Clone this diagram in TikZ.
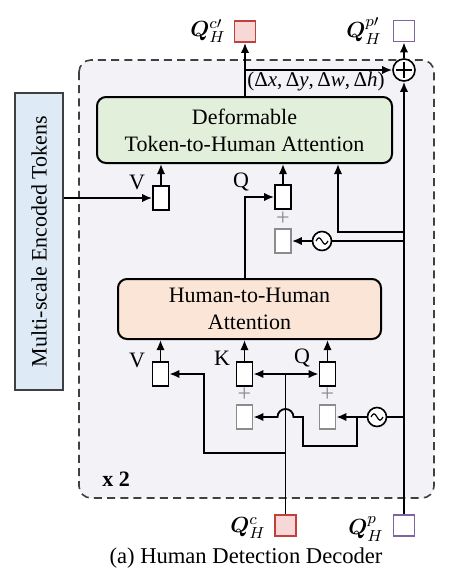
\documentclass[tikz,border=0pt]{standalone}
\usepackage{fontspec}
\setmainfont{Liberation Serif}
\usepackage{bm}
\usetikzlibrary{arrows.meta,calc}
\definecolor{outerfill}{RGB}{242,242,247}
\definecolor{outerline}{RGB}{64,64,64}
\definecolor{greenfill}{RGB}{226,239,218}
\definecolor{peachfill}{RGB}{251,229,214}
\definecolor{bluefill}{RGB}{222,235,247}
\definecolor{redfill}{RGB}{248,215,215}
\definecolor{redline}{RGB}{192,64,60}
\definecolor{purpleline}{RGB}{128,100,162}
\definecolor{grayline}{RGB}{140,140,140}
\tikzset{
  tok/.style={draw, fill=white, minimum width=8pt, minimum height=12pt, inner sep=0pt, line width=0.9pt},
  pebox/.style={tok, draw=grayline},
  sinc/.style={circle, draw, fill=white, minimum size=9.5pt, inner sep=0pt, line width=0.8pt},
  attn/.style={draw, rounded corners=4.5pt, line width=1pt, align=center, inner sep=0pt},
  qbox/.style={draw, minimum size=10.5pt, inner sep=0pt, line width=0.9pt},
  plusmark/.style={text=grayline, inner sep=0pt, font=\fontsize{12}{12}\selectfont},
  lbl/.style={inner sep=0pt},
  conn/.style={line width=0.9pt},
  arr/.style={conn, -{Latex[length=5pt,width=4.2pt]}}
}
\begin{document}
\begin{tikzpicture}[x=0.5pt,y=-0.5pt, font=\fontsize{11}{13.5}\selectfont]
\useasboundingbox (0,0) rectangle (474,579);
% outer dashed box
\draw[fill=outerfill, draw=outerline, dash pattern=on 4pt off 2.6pt, line width=0.8pt, rounded corners=6pt] (79,60) rectangle (434,498);
% main blocks
\node[attn, fill=greenfill, minimum width=147.5pt, minimum height=33pt] (dta) at (244.5,130) {Deformable\\Token-to-Human Attention};
\node[attn, fill=peachfill, minimum width=131.5pt, minimum height=30pt] (hha) at (249.5,309) {Human-to-Human\\Attention};
\node[draw=outerline, fill=bluefill, line width=0.8pt, rotate=90, minimum width=148.5pt, minimum height=24pt, inner sep=0pt] (msb) at (39,241.5) {Multi-scale Encoded Tokens};
% query boxes
\node[qbox, draw=redline, fill=redfill] (qcp) at (245,31.5) {};
\node[qbox, draw=purpleline, fill=white] (qpp) at (404,31) {};
\node[qbox, draw=redline, fill=redfill] (qc) at (285.5,525.5) {};
\node[qbox, draw=purpleline, fill=white] (qp) at (404,525.5) {};
\node[lbl, anchor=east] (lqcp) at (226,31) {$\bm{Q}_H^{c\prime}$};
\node[lbl, anchor=east] (lqpp) at (382,31) {$\bm{Q}_H^{p\prime}$};
\node[lbl, anchor=east] (lqc) at (266,528) {$\bm{Q}_H^{c}$};
\node[lbl, anchor=east] (lqp) at (384,529) {$\bm{Q}_H^{p}$};
% plus circle
\node[circle, draw, fill=white, minimum size=11pt, inner sep=0pt, line width=0.8pt] (plus) at (404,70) {};
\draw[line width=0.6pt] ([yshift=4pt]plus.center) -- ([yshift=-4pt]plus.center) ([xshift=-4pt]plus.center) -- ([xshift=4pt]plus.center);
% upper tokens
\node[tok] (vt) at (161,198) {};
\node[tok] (qt) at (283,197) {};
\node[pebox] (gt) at (283,241) {};
\node[plusmark] (pt) at (283,219) {+};
\node[sinc] (s1) at (322,241) {};
\node[lbl] (lvt) at (137,182) {V};
\node[lbl] (lqt) at (241,182) {Q};
% lower tokens
\node[tok] (vl) at (160.5,374) {};
\node[tok] (kl) at (244.5,374) {};
\node[tok] (ql) at (327.5,374) {};
\node[pebox] (kg) at (244.5,417) {};
\node[pebox] (qg) at (327.5,417) {};
\node[plusmark] (pk) at (244.5,395) {+};
\node[plusmark] (pq) at (327.5,395) {+};
\node[sinc] (s2) at (377,417) {};
\node[lbl] (lvl) at (137,360) {V};
\node[lbl] (lkl) at (222,358) {K};
\node[lbl] (lql) at (302,358) {Q};
% sine glyphs
\foreach \s in {s1,s2}{
  \draw[line width=0.6pt] ([xshift=-3pt]\s.center) sin ++(1.5pt,1.6pt) cos ++(1.5pt,-1.6pt) sin ++(1.5pt,-1.6pt) cos ++(1.5pt,1.6pt);
}
% texts
\node[lbl, font=\fontsize{10.5}{12}\selectfont] (dlt) at (316,81) {(Δ\textit{x},\,Δ\textit{y},\,Δ\textit{w},\,Δ\textit{h})};
\node[lbl] (rep) at (116,479) {\textbf{x 2}};
\node[lbl, font=\fontsize{11.3}{13}\selectfont] (cap) at (246,558) {(a) Human Detection Decoder};
% coordinates
\coordinate (dj) at (245,70);
\coordinate (qin) at (245,197);
\coordinate (r1) at (404,241);
\coordinate (r2) at (404,232);
\coordinate (r2b) at (338,232);
\coordinate (r3) at (404,417);
\coordinate (b1) at (357,417);
\coordinate (b2) at (357,446);
\coordinate (b3) at (303,446);
\coordinate (b4) at (303,417);
\coordinate (h1) at (293.5,417);
\coordinate (cj) at (285.5,374);
\coordinate (vj1) at (285.5,453);
\coordinate (vj2) at (204,453);
\coordinate (vj3) at (204,374);
% top connectors
\draw[arr] (dta.north -| qcp) -- (qcp.south);
\draw[arr] (dj) -- (plus.west);
\draw[arr] (plus.north) -- (qpp.south);
\draw[arr] (qp.north) -- (plus.south);
% upper connectors
\draw[arr] (msb.south |- vt) -- (vt.west);
\draw[arr] (vt.north) -- (vt.north |- dta.south);
\draw[arr] (qt.north) -- (qt.north |- dta.south);
\draw[arr] (qin |- hha.north) -- (qin) -- (qt.west);
\draw[conn] (r1) -- (s1.east);
\draw[arr] (s1.west) -- (gt.east);
\draw[arr] (r2) -- (r2b) -- (r2b |- dta.south);
% lower connectors
\draw[arr] (vl.north) -- (vl.north |- hha.south);
\draw[arr] (kl.north) -- (kl.north |- hha.south);
\draw[arr] (ql.north) -- (ql.north |- hha.south);
\draw[conn] (qc.north) -- (cj);
\draw[arr] (cj) -- (kl.east);
\draw[arr] (cj) -- (ql.west);
\draw[arr] (vj1) -- (vj2) -- (vj3) -- (vl.east);
\draw[conn] (r3) -- (s2.east);
\draw[arr] (s2.west) -- (qg.east);
\draw[arr] (b1) -- (b2) -- (b3) -- (b4) -- (h1) arc[start angle=0, end angle=180, radius=4pt] -- (kg.east);
\end{tikzpicture}
\end{document}
